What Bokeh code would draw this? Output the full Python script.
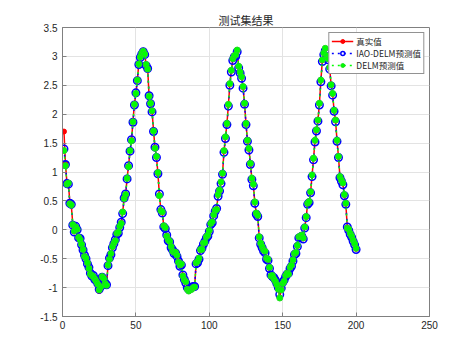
from bokeh.plotting import figure
from bokeh.models import (FixedTicker, Legend, LegendItem, Range1d)
from bokeh.embed import file_html
from bokeh.resources import INLINE

# ---------------- data ----------------
sample_idx = list(range(1, 201))

true_vals = [
    1.70, 1.15, 0.82, 0.80, 0.48, 0.42, 0.10, -0.03, 0.04, 0.02,
    -0.12, -0.16, -0.24, -0.33, -0.45, -0.48, -0.58, -0.66, -0.76, -0.78,
    -0.80, -0.84, -0.88, -0.95, -1.06, -1.00, -0.80, -0.85, -0.94, -0.97,
    -0.60, -0.50, -0.42, -0.30, -0.22, -0.18, -0.07, -0.05, 0.05, 0.12,
    0.30, 0.56, 0.60, 0.90, 1.10, 1.38, 1.55, 1.88, 2.18, 2.35,
    2.60, 2.88, 3.00, 3.05, 3.10, 3.05, 2.85, 2.80, 2.30, 2.20,
    2.05, 1.72, 1.42, 1.26, 0.98, 0.60, 0.34, 0.30, 0.06, 0.03,
    -0.10, -0.18, -0.19, -0.30, -0.36, -0.40, -0.38, -0.45, -0.55, -0.62,
    -0.60, -0.79, -0.88, -0.91, -1.02, -1.05, -1.03, -1.02, -0.99, -1.00,
    -0.58, -0.56, -0.50, -0.35, -0.33, -0.24, -0.21, -0.13, -0.10, -0.02,
    0.10, 0.13, 0.25, 0.33, 0.36, 0.60, 0.68, 0.82, 0.97, 1.36,
    1.60, 1.83, 2.16, 2.52, 2.75, 2.95, 3.00, 3.02, 3.10, 2.82,
    2.72, 2.64, 2.47, 2.18, 1.83, 1.54, 1.40, 1.14, 0.88, 0.78,
    0.47, 0.28, 0.24, -0.13, -0.24, -0.30, -0.36, -0.38, -0.50, -0.52,
    -0.66, -0.79, -0.80, -0.84, -0.88, -0.94, -1.02, -1.17, -1.03, -0.92,
    -0.88, -0.80, -0.76, -0.76, -0.66, -0.62, -0.53, -0.42, -0.40, -0.28,
    -0.13, -0.12, -0.10, -0.15, 0.04, 0.22, 0.45, 0.48, 0.65, 0.94,
    1.23, 1.54, 1.72, 1.89, 2.18, 2.58, 2.93, 3.05, 3.13, 3.00,
    2.95, 2.80, 2.50, 2.35, 2.06, 1.89, 1.54, 1.26, 0.91, 0.85,
    0.80, 0.60, 0.45, 0.04, 0.00, -0.07, -0.12, -0.19, -0.25, -0.33,
]

iao_delm_pred = [
    1.40, 1.13, 0.80, 0.79, 0.46, 0.44, 0.08, -0.04, 0.06, 0.00,
    -0.14, -0.15, -0.26, -0.35, -0.44, -0.50, -0.59, -0.65, -0.75, -0.80,
    -0.79, -0.86, -0.87, -0.93, -1.03, -0.98, -0.82, -0.86, -0.92, -0.95,
    -0.62, -0.49, -0.43, -0.31, -0.24, -0.17, -0.08, -0.06, 0.04, 0.13,
    0.28, 0.55, 0.62, 0.88, 1.11, 1.36, 1.56, 1.86, 2.16, 2.37,
    2.58, 2.86, 2.98, 3.04, 3.08, 3.03, 2.84, 2.79, 2.32, 2.18,
    2.04, 1.70, 1.43, 1.25, 0.97, 0.62, 0.35, 0.29, 0.05, 0.02,
    -0.09, -0.19, -0.21, -0.31, -0.35, -0.41, -0.40, -0.46, -0.54, -0.63,
    -0.61, -0.78, -0.86, -0.92, -1.00, -1.03, -1.01, -1.00, -0.98, -0.98,
    -0.59, -0.57, -0.51, -0.36, -0.32, -0.25, -0.20, -0.14, -0.11, -0.03,
    0.09, 0.12, 0.24, 0.32, 0.37, 0.58, 0.67, 0.80, 0.96, 1.34,
    1.58, 1.82, 2.14, 2.50, 2.73, 2.93, 2.99, 3.00, 3.08, 2.80,
    2.71, 2.62, 2.45, 2.17, 1.82, 1.53, 1.38, 1.13, 0.87, 0.76,
    0.46, 0.27, 0.23, -0.14, -0.25, -0.31, -0.37, -0.40, -0.51, -0.53,
    -0.67, -0.78, -0.81, -0.83, -0.87, -0.93, -1.00, -1.12, -1.01, -0.91,
    -0.87, -0.81, -0.77, -0.75, -0.67, -0.63, -0.54, -0.43, -0.41, -0.29,
    -0.14, -0.13, -0.11, -0.16, 0.03, 0.21, 0.44, 0.47, 0.64, 0.92,
    1.21, 1.52, 1.71, 1.88, 2.16, 2.56, 2.91, 3.03, 3.10, 2.98,
    2.94, 2.78, 2.49, 2.33, 2.05, 1.87, 1.53, 1.25, 0.90, 0.84,
    0.78, 0.59, 0.44, 0.05, -0.01, -0.08, -0.13, -0.20, -0.26, -0.34,
]

delm_pred = [
    1.37, 1.11, 0.79, 0.81, 0.45, 0.43, 0.09, -0.02, 0.05, 0.01,
    -0.13, -0.17, -0.25, -0.34, -0.46, -0.49, -0.57, -0.67, -0.77, -0.79,
    -0.81, -0.85, -0.89, -0.94, -1.04, -0.99, -0.81, -0.84, -0.93, -0.96,
    -0.61, -0.51, -0.41, -0.29, -0.23, -0.19, -0.06, -0.04, 0.06, 0.11,
    0.31, 0.54, 0.61, 0.89, 1.09, 1.37, 1.54, 1.87, 2.17, 2.36,
    2.59, 2.87, 2.99, 3.06, 3.09, 3.04, 2.86, 2.78, 2.31, 2.19,
    2.06, 1.71, 1.41, 1.27, 0.99, 0.59, 0.33, 0.31, 0.07, 0.04,
    -0.11, -0.17, -0.20, -0.29, -0.37, -0.39, -0.39, -0.44, -0.56, -0.61,
    -0.59, -0.80, -0.87, -0.90, -1.03, -1.06, -1.04, -1.03, -1.00, -0.99,
    -0.57, -0.55, -0.49, -0.34, -0.34, -0.23, -0.22, -0.12, -0.09, -0.01,
    0.11, 0.14, 0.26, 0.34, 0.35, 0.61, 0.69, 0.83, 0.98, 1.37,
    1.61, 1.84, 2.17, 2.53, 2.76, 2.96, 3.01, 3.03, 3.11, 2.83,
    2.73, 2.65, 2.48, 2.19, 1.84, 1.55, 1.41, 1.15, 0.89, 0.79,
    0.48, 0.29, 0.25, -0.12, -0.23, -0.29, -0.35, -0.37, -0.49, -0.51,
    -0.65, -0.80, -0.79, -0.85, -0.89, -0.95, -1.03, -1.18, -1.04, -0.93,
    -0.89, -0.79, -0.75, -0.77, -0.65, -0.61, -0.52, -0.41, -0.39, -0.27,
    -0.12, -0.11, -0.09, -0.14, 0.05, 0.23, 0.46, 0.49, 0.66, 0.95,
    1.24, 1.55, 1.73, 1.90, 2.19, 2.59, 2.94, 3.06, 3.14, 3.01,
    2.96, 2.81, 2.51, 2.36, 2.07, 1.90, 1.55, 1.27, 0.92, 0.86,
    0.81, 0.61, 0.46, 0.03, 0.01, -0.06, -0.11, -0.18, -0.24, -0.32,
]

x_ticks = [0, 50, 100, 150, 200, 250]
x_tick_labels = ["0", "50", "100", "150", "200", "250"]
y_ticks = [-1.5, -1, -0.5, 0, 0.5, 1, 1.5, 2, 2.5, 3, 3.5]
y_tick_labels = ["-1.5", "-1", "-0.5", "0", "0.5", "1", "1.5", "2", "2.5", "3", "3.5"]

title_text = "测试集结果"
series_names = ["真实值", "IAO-DELM预测值", "DELM预测值"]

# ---------------- figure ----------------
AX = "#262626"
BOX = "#808080"
TICK_FONT = "Liberation Sans"

p = figure(width=474, height=355, output_backend="svg", toolbar_location=None,
           x_range=Range1d(0, 250), y_range=Range1d(-1.5, 3.5),
           min_border_left=62, min_border_right=45, min_border_top=27,
           min_border_bottom=39, background_fill_color="white",
           border_fill_color="white")

p.title.text = title_text
p.title.align = "center"
p.title.text_font = "Noto Sans CJK SC"
p.title.text_font_size = "11px"
p.title.text_font_style = "normal"
p.title.text_color = AX
p.title.offset = 0
p.title.standoff = 0

p.outline_line_color = BOX
p.outline_line_width = 1

for ax in (p.xaxis[0], p.yaxis[0]):
    ax.axis_line_color = BOX
    ax.major_tick_line_color = BOX
    ax.major_tick_in = 4
    ax.major_tick_out = 0
    ax.minor_tick_line_color = None
    ax.major_label_text_font = TICK_FONT
    ax.major_label_text_font_size = "10px"
    ax.major_label_text_color = AX

p.xaxis[0].ticker = FixedTicker(ticks=x_ticks)
p.xaxis[0].major_label_overrides = dict(zip(x_ticks, x_tick_labels))
p.xaxis[0].major_label_standoff = 4
p.yaxis[0].ticker = FixedTicker(ticks=y_ticks)
y_over = {}
for k, v in zip(y_ticks, y_tick_labels):
    y_over[float(k)] = v
    if float(k).is_integer():
        y_over[int(k)] = v
p.yaxis[0].major_label_overrides = y_over
p.yaxis[0].major_label_standoff = 5

p.xgrid.ticker = FixedTicker(ticks=x_ticks)
p.ygrid.ticker = FixedTicker(ticks=y_ticks)
p.grid.grid_line_color = "#e3e3e3"
p.grid.grid_line_width = 1

# ---------------- series ----------------
r_true_l = p.line(sample_idx, true_vals, line_color="#ff0000", line_width=1.5)
r_true_m = p.scatter(sample_idx, true_vals, marker="circle", size=5,
                     fill_color="#ff0000", line_color="#ff0000")

r_iao_l = p.line(sample_idx, iao_delm_pred, line_color="#0000ff", line_width=1.5,
                 line_dash="dotted")
r_iao_m = p.scatter(sample_idx, iao_delm_pred, marker="circle", size=7.5,
                    fill_color=None, line_color="#0000ff", line_width=1.5)

r_delm_l = p.line(sample_idx, delm_pred, line_color="#00ff00", line_width=1.5,
                  line_dash="dotted")
r_delm_m = p.scatter(sample_idx, delm_pred, marker="circle", size=6,
                     fill_color="#00ff00", line_color="#22dd22", line_width=1)

legend = Legend(items=[
    LegendItem(label=series_names[0], renderers=[r_true_l, r_true_m]),
    LegendItem(label=series_names[1], renderers=[r_iao_l, r_iao_m]),
    LegendItem(label=series_names[2], renderers=[r_delm_l, r_delm_m]),
], location="top_right")
legend.label_text_font = "Noto Sans CJK SC"
legend.label_text_font_size = "8.5px"
legend.label_text_color = AX
legend.label_height = 10
legend.label_standoff = 3
legend.glyph_width = 22
legend.glyph_height = 10
legend.spacing = 0
legend.padding = 2
legend.margin = 5
legend.border_line_color = AX
legend.border_line_width = 1
legend.background_fill_color = "white"
legend.background_fill_alpha = 1
p.add_layout(legend, "center")

open("out.html", "w").write(file_html(p, INLINE))
